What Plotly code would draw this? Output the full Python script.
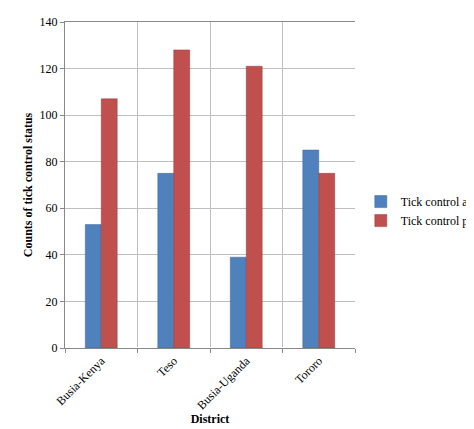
import plotly.graph_objects as go

districts = ["Busia-Kenya", "Teso", "Busia-Uganda", "Tororo"]
absent = [53, 75, 39, 85]
present = [107, 128, 121, 75]

fig = go.Figure()
fig.add_bar(x=districts, y=absent, name="Tick control absent", marker_color="#4F81BD",
            marker_line=dict(color="#3A6496", width=0.5))
fig.add_bar(x=districts, y=present, name="Tick control present", marker_color="#C0504D",
            marker_line=dict(color="#943B39", width=0.5))
fig.update_layout(
    width=474, height=429, plot_bgcolor="white", paper_bgcolor="white",
    margin=dict(l=57, r=127, t=14, b=89, autoexpand=False),
    bargap=0.56, bargroupgap=0.0,
    font=dict(family="Liberation Serif", color="black", size=12),
    legend=dict(x=1.02, y=0.42, yanchor="middle", font=dict(size=12), tracegroupgap=8),
    xaxis=dict(tickson="boundaries", showgrid=True, gridcolor="#BFBFBF", tickangle=-45,
               showline=True, linecolor="#888", ticks="outside", ticklen=4, tickcolor="#888",
               mirror=True, automargin=False,
               title=dict(text="<b>District</b>", standoff=0, font=dict(size=12))),
    yaxis=dict(range=[0, 140], dtick=20, showgrid=True, gridcolor="#BFBFBF",
               showline=True, linecolor="#888", ticks="outside", ticklen=4, tickcolor="#888",
               automargin=False,
               title=dict(text="<b>Counts of tick control status</b>", standoff=4, font=dict(size=12))),
)
fig.write_html("out.html")
